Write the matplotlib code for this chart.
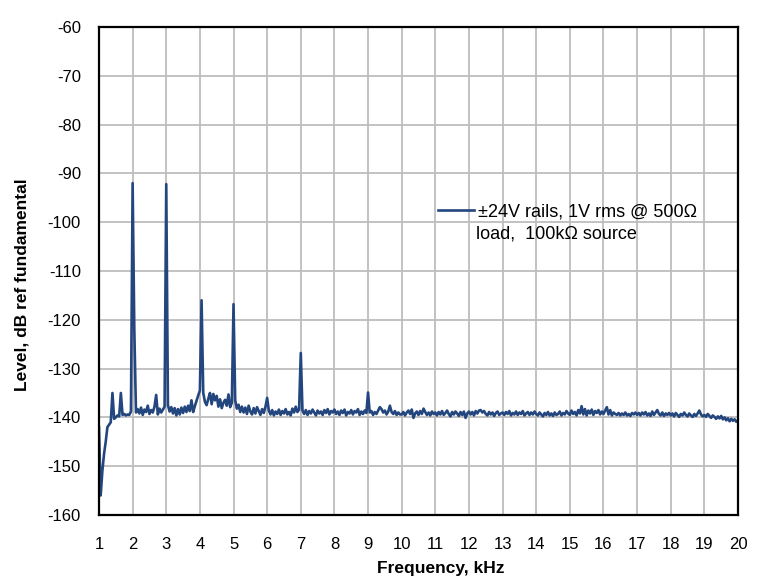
import numpy as np
import matplotlib.pyplot as plt

plt.rcParams['font.family'] = ['Liberation Sans', 'DejaVu Sans']
plt.rcParams['axes.unicode_minus'] = False

# frequency grid, 0.05 kHz step from 1 to 20 kHz
freq_khz = np.round(np.arange(1.0, 20.0001, 0.05), 2)

# level in dB ref fundamental, one row per kHz (20 points each)
level_db = [
    # 1.00 - 1.95
    -142.0, -156.0, -151.0, -147.5, -145.0, -142.0, -141.5, -141.0, -135.0, -140.3,
    -140.0, -139.6, -139.8, -135.0, -139.5, -139.3, -139.6, -139.4, -139.5, -138.8,
    # 2.00 - 2.95
    -92.0, -122.0, -139.0, -138.3, -139.2, -138.0, -139.5, -138.4, -138.9, -137.6,
    -139.3, -138.5, -139.0, -137.8, -135.4, -139.4, -138.2, -139.0, -138.4, -137.8,
    # 3.00 - 3.95
    -92.2, -137.5, -138.8, -137.9, -139.2, -138.1, -139.6, -138.3, -139.4, -138.0,
    -139.1, -137.8, -138.9, -137.6, -138.7, -136.5, -138.9, -137.7, -136.6, -135.5,
    # 4.00 - 4.95
    -134.5, -116.0, -135.0, -136.8, -137.5, -136.2, -135.0, -137.3, -135.2, -136.5,
    -135.6, -137.8, -136.3, -138.1, -137.0, -136.4, -137.6, -135.3, -137.9, -137.0,
    # 5.00 - 5.95
    -116.8, -136.5, -138.2, -137.4, -138.9, -137.8, -139.0, -138.0, -139.3, -137.6,
    -138.8, -139.4, -138.1, -139.2, -137.9, -138.7, -139.5, -138.3, -139.1, -137.8,
    # 6.00 - 6.95
    -136.0, -138.6, -139.4, -138.5, -139.6, -138.8, -139.3, -138.4, -139.5, -138.7,
    -139.2, -138.3, -139.4, -138.9, -139.6, -138.2, -139.0, -137.8, -138.9, -138.4,
    # 7.00 - 7.95
    -126.8, -138.6, -139.3, -138.5, -139.5, -138.7, -139.2, -138.4, -139.0, -139.6,
    -138.6, -139.2, -138.8, -139.5, -138.5, -139.1, -138.3, -139.4, -138.7, -139.0,
    # 8.00 - 8.95
    -138.4, -139.3, -138.8, -139.5, -138.6, -139.1, -138.4, -139.6, -138.9, -139.2,
    -138.5, -139.4, -138.7, -139.0, -138.3, -139.5, -138.8, -139.3, -138.6, -139.1,
    # 9.00 - 9.95
    -134.9, -139.0, -138.7, -139.5, -138.9, -139.3, -138.6, -137.9, -138.3, -139.0,
    -138.6, -139.4, -138.8, -137.6, -138.9, -139.3, -138.7, -139.5, -139.0, -139.4,
    # 10.00 - 10.95
    -139.4, -138.9, -139.6, -139.0, -138.6, -139.3, -138.4, -140.1, -139.2, -138.8,
    -139.5, -138.7, -139.3, -138.2, -138.9, -139.5, -139.0, -139.6, -138.8, -139.3,
    # 11.00 - 11.95
    -139.0, -139.6, -138.9, -139.4, -138.7, -139.5, -139.1, -138.6, -139.3, -139.8,
    -138.9, -139.4, -138.8, -139.2, -139.7, -138.9, -139.5, -138.8, -140.1, -139.2,
    # 12.00 - 12.95
    -138.8, -139.4, -138.9, -139.6, -138.7, -139.2, -138.6, -138.5, -139.0, -138.7,
    -139.3, -139.6, -138.9, -139.4, -139.0, -139.7, -139.1, -138.8, -139.5, -139.2,
    # 13.00 - 13.95
    -139.0, -139.5, -138.9, -139.3, -138.7, -139.6, -139.1, -139.4, -138.8, -139.5,
    -139.0, -139.3, -138.7, -139.6, -139.2, -138.9, -139.5, -139.0, -139.4, -138.8,
    # 14.00 - 14.95
    -139.3, -139.6, -139.0, -139.4, -139.8, -139.1, -139.5, -138.9, -139.6, -139.2,
    -139.7, -139.0, -139.5, -139.3, -138.8, -139.6, -139.1, -139.4, -138.7, -139.2,
    # 15.00 - 15.95
    -139.5, -138.6, -139.3, -138.9, -139.6, -138.5, -139.2, -137.7, -139.4, -138.3,
    -139.6, -138.6, -139.2, -138.4, -139.5, -138.7, -139.1, -138.5, -139.4, -138.8,
    # 16.00 - 16.95
    -139.3, -138.6, -137.9, -139.4, -138.5, -139.6, -139.0, -139.3, -139.5, -139.1,
    -139.6, -139.2, -139.5, -139.0, -139.6, -139.3, -139.7, -139.1, -139.4, -139.0,
    # 17.00 - 17.95
    -139.5, -139.1, -139.6, -139.0, -139.4, -138.9, -139.6, -139.2, -139.7, -138.8,
    -139.5, -139.0, -138.5, -139.3, -139.6, -139.0, -139.7, -139.2, -139.5, -139.1,
    # 18.00 - 18.95
    -139.6, -139.2, -139.8, -139.1, -139.5, -139.9, -139.3, -139.6, -139.0, -139.5,
    -139.8, -139.2, -139.6, -139.9, -139.3, -139.7, -139.2, -138.6, -139.4, -139.8,
    # 19.00 - 19.95
    -139.5, -139.9, -139.3, -139.7, -140.1, -139.6, -139.9, -140.3, -139.8, -140.2,
    -139.7, -140.4, -140.0, -140.6, -140.2, -140.8, -140.3, -140.7, -140.4, -140.9,
    # 20.00
    -140.6,
]

series_label = "±24V rails, 1V rms @ 500Ω"
series_label_2 = "load,  100kΩ source"
x_ticks = list(range(1, 21))
y_ticks = list(range(-160, -59, 10))

fig = plt.figure(figsize=(7.65, 5.87), dpi=100)
ax = fig.add_axes([0.1294, 0.1227, 0.8353, 0.8313])

ax.plot(freq_khz, level_db, color='#24467E', linewidth=1.9, label=series_label)

ax.set_xlim(1, 20)
ax.set_ylim(-160, -60)
ax.set_xticks(x_ticks)
ax.set_yticks(y_ticks)
ax.tick_params(length=0, labelsize=12)
ax.tick_params(axis='x', pad=16)
ax.tick_params(axis='y', pad=13)
ax.grid(True, color='#BDBDBD', linewidth=1.3)
ax.set_axisbelow(True)

for s in ax.spines.values():
    s.set_linewidth(1.6)
    s.set_color('black')

ax.set_xlabel("Frequency, kHz", fontsize=12.5, fontweight='bold')
ax.set_ylabel("Level, dB ref fundamental", fontsize=12.5, fontweight='bold')
ax.xaxis.set_label_coords(0.535, -0.095)
ax.yaxis.set_label_coords(-0.108, 0.472)

# legend: first line with the handle, second line continues under the text
ax.legend(loc='center left', bbox_to_anchor=(0.5305, 0.621), frameon=False,
          fontsize=13, handlelength=2.0, handletextpad=0.2,
          borderaxespad=0, borderpad=0)
ax.text(0.590, 0.5666, series_label_2, transform=ax.transAxes,
        fontsize=13, ha='left', va='baseline')

plt.savefig("out.png", dpi=100)
